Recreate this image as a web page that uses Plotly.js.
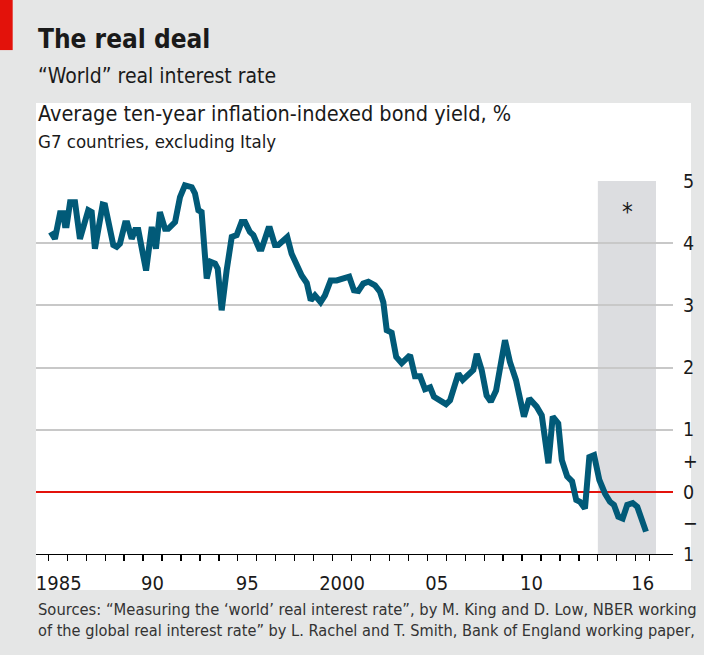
<!DOCTYPE html>
<html>
<head>
<meta charset="utf-8">
<script src="https://cdn.plot.ly/plotly-3.0.1.min.js"></script>
<style>
  html, body { margin: 0; padding: 0; background: #e5e6e6; }
  #chart { width: 704px; height: 655px; }
</style>
</head>
<body>
<div id="chart"></div>
<script>
// ---- Data (decimal years, % yield) ----
const years = [
  1985.13, 1985.35, 1985.62, 1985.79, 1985.88, 1985.97, 1986.15, 1986.41, 1986.67, 1987.11,
  1987.29, 1987.46, 1987.87, 1987.99, 1988.43, 1988.61, 1988.78, 1989.05, 1989.17, 1989.40,
  1989.58, 1989.75, 1990.16, 1990.46, 1990.68, 1990.89, 1991.16, 1991.33, 1991.69, 1991.95,
  1992.21, 1992.57, 1992.74, 1992.92, 1993.09, 1993.36, 1993.57, 1993.80, 1993.94, 1994.15,
  1994.41, 1994.68, 1994.94, 1995.20, 1995.38, 1995.64, 1995.82, 1996.13, 1996.26, 1996.61,
  1996.70, 1996.96, 1997.14, 1997.61, 1997.84, 1998.11, 1998.37, 1998.64, 1998.85, 1999.07,
  1999.37, 1999.60, 1999.90, 2000.22, 2000.57, 2000.88, 2001.13, 2001.36, 2001.62, 2001.89,
  2002.24, 2002.50, 2002.68, 2002.86, 2003.12, 2003.36, 2003.65, 2004.09, 2004.35, 2004.62,
  2004.88, 2005.15, 2005.35, 2005.67, 2005.99, 2006.20, 2006.64, 2006.87, 2007.16, 2007.43,
  2007.61, 2007.87, 2008.13, 2008.35, 2008.63, 2009.10, 2009.36, 2009.68, 2010.10, 2010.38,
  2010.77, 2011.04, 2011.39, 2011.62, 2011.91, 2012.10, 2012.38, 2012.64, 2012.86, 2013.06,
  2013.32, 2013.55, 2013.80, 2014.08, 2014.38, 2014.64, 2014.85, 2015.08, 2015.31, 2015.55,
  2015.84, 2016.08, 2016.54
];
const yields = [
  4.18, 4.07, 4.48, 4.48, 4.29, 4.29, 4.66, 4.66, 4.07, 4.53,
  4.50, 3.91, 4.62, 4.61, 3.97, 3.94, 3.99, 4.32, 4.32, 4.07,
  4.21, 4.21, 3.56, 4.26, 3.91, 4.50, 4.23, 4.23, 4.34, 4.74,
  4.93, 4.90, 4.80, 4.53, 4.50, 3.43, 3.70, 3.67, 3.59, 2.92,
  3.56, 4.10, 4.13, 4.34, 4.34, 4.18, 4.13, 3.91, 3.91, 4.23,
  4.23, 3.97, 3.97, 4.10, 3.83, 3.62, 3.48, 3.36, 3.08, 3.16,
  3.05, 3.16, 3.40, 3.40, 3.43, 3.46, 3.24, 3.23, 3.35, 3.38,
  3.32, 3.22, 3.05, 2.60, 2.56, 2.17, 2.07, 2.20, 1.86, 1.86,
  1.65, 1.68, 1.53, 1.47, 1.41, 1.47, 1.90, 1.80, 1.90, 1.96,
  2.22, 1.96, 1.55, 1.45, 1.63, 2.44, 2.09, 1.80, 1.21, 1.50,
  1.37, 1.23, 0.46, 1.21, 1.10, 0.51, 0.25, 0.17, -0.13, -0.16,
  -0.27, 0.56, 0.59, 0.19, -0.03, -0.16, -0.21, -0.40, -0.43, -0.21,
  -0.18, -0.24, -0.64
];

// ---- Axis ticks / labels ----
const yTickVals = [5, 4, 3, 2, 1, 0.5, 0, -0.5, -1];
const yTickText = ['5', '4', '3', '2', '1', '+', '0', '\u2212', '1'];
const gridVals = [1, 2, 3, 4, 5];
const yearTicks = [1985, 1986, 1987, 1988, 1989, 1990, 1991, 1992, 1993, 1994, 1995, 1996,
  1997, 1998, 1999, 2000, 2001, 2002, 2003, 2004, 2005, 2006, 2007, 2008, 2009, 2010,
  2011, 2012, 2013, 2014, 2015, 2016, 2016.74];
const majorTicks = [1985, 1986, 1990, 1991, 1995, 1996, 2000, 2001, 2005, 2006, 2010, 2011, 2016, 2016.74];
const xLabelPos = [1985.55, 1990.5, 1995.5, 2000.5, 2005.5, 2010.5, 2016.37];
const xLabels = ['1985', '90', '95', '2000', '05', '10', '16'];
const shadeStart = 2014.0;
const shadeEnd = 2017.07;
const asteriskPos = [2015.54, 4.5];

const xRange = [1984.351, 2017.966];
const yRange = [-1, 5];

const FONT = 'DejaVu Sans Condensed, DejaVu Sans, sans-serif';
const INK = '#1a1a1a';

const traces = [
  {
    x: years, y: yields, type: 'scatter', mode: 'lines',
    line: { color: '#015a78', width: 6 },
    hoverinfo: 'skip', showlegend: false
  },
  {
    x: xLabelPos, y: xLabelPos.map(() => null), xaxis: 'x2', yaxis: 'y',
    type: 'scatter', mode: 'markers', hoverinfo: 'skip', showlegend: false
  }
];

const layout = {
  width: 704, height: 655,
  margin: { l: 36, r: 31, t: 181, b: 101, autoexpand: false },
  paper_bgcolor: '#e5e6e6',
  plot_bgcolor: '#ffffff',
  showlegend: false,
  font: { family: FONT, color: INK },
  xaxis: {
    range: xRange, fixedrange: true,
    showgrid: false, zeroline: false,
    showline: true, linecolor: '#000', linewidth: 1.3,
    tickmode: 'array', tickvals: majorTicks, ticktext: majorTicks.map(() => ''),
    ticks: 'outside', ticklen: 11, tickwidth: 1.3, tickcolor: '#000',
    minor: { tickmode: 'array', tickvals: yearTicks, ticks: 'outside', ticklen: 6, tickwidth: 1.3, tickcolor: '#000', showgrid: false }
  },
  xaxis2: {
    range: xRange, fixedrange: true, overlaying: 'x', anchor: 'y', side: 'bottom',
    showgrid: false, zeroline: false, showline: false,
    tickmode: 'array', tickvals: xLabelPos, ticktext: xLabels,
    ticks: '', ticklabelstandoff: 15,
    tickfont: { family: FONT, size: 20, color: INK }
  },
  yaxis: {
    range: yRange, fixedrange: true, side: 'right',
    showline: false,
    showgrid: false,
    zeroline: true, zerolinecolor: '#e3120b', zerolinewidth: 1.5,
    tickmode: 'array', tickvals: yTickVals, ticktext: yTickText,
    ticks: '', ticklabelstandoff: 9,
    tickfont: { family: FONT, size: 19.5, color: INK },
    minor: { tickmode: 'array', tickvals: gridVals, showgrid: true, gridcolor: '#c8c8c8', gridwidth: 2, ticks: '' }
  },
  shapes: [
    // white panel
    { type: 'rect', xref: 'paper', yref: 'paper', x0: 0, x1: 1.0283, y0: -0.0965, y1: 1.2091,
      fillcolor: '#ffffff', line: { width: 0 }, layer: 'below' },
    // red tag
    { type: 'rect', xref: 'paper', yref: 'paper', x0: -0.0565, x1: -0.0366, y0: 1.351, y1: 1.49,
      fillcolor: '#e3120b', line: { width: 0 }, layer: 'above' },
    // shaded period
    { type: 'rect', xref: 'x', yref: 'paper', x0: shadeStart, x1: shadeEnd, y0: 0, y1: 1,
      fillcolor: '#dcdde0', line: { width: 0 }, layer: 'below' }
  ],
  annotations: [
    { xref: 'paper', yref: 'paper', x: 0, y: 1.3807, xanchor: 'left', yanchor: 'middle', showarrow: false,
      text: 'The real deal', font: { family: FONT, size: 26, weight: 700, color: INK } },
    { xref: 'paper', yref: 'paper', x: 0, y: 1.2826, xanchor: 'left', yanchor: 'middle', showarrow: false,
      text: '\u201CWorld\u201D real interest rate', font: { family: FONT, size: 21, color: INK } },
    { xref: 'paper', yref: 'paper', x: 0, y: 1.1823, xanchor: 'left', yanchor: 'middle', showarrow: false,
      text: 'Average ten-year inflation-indexed bond yield, %', font: { family: FONT, size: 21.5, color: INK } },
    { xref: 'paper', yref: 'paper', x: 0, y: 1.1054, xanchor: 'left', yanchor: 'middle', showarrow: false,
      text: 'G7 countries, excluding Italy', font: { family: FONT, size: 18.5, color: INK } },
    { xref: 'x', yref: 'y', x: asteriskPos[0], y: asteriskPos[1], xanchor: 'center', yanchor: 'middle', showarrow: false,
      text: '*', font: { family: FONT, size: 24, color: INK } },
    { xref: 'paper', yref: 'paper', x: 0, y: -0.1475, xanchor: 'left', yanchor: 'middle', showarrow: false,
      text: 'Sources: \u201CMeasuring the \u2018world\u2019 real interest rate\u201D, by M. King and D. Low, NBER working',
      font: { family: FONT, size: 16.4, color: '#333333' } },
    { xref: 'paper', yref: 'paper', x: 0, y: -0.2064, xanchor: 'left', yanchor: 'middle', showarrow: false,
      text: 'of the global real interest rate\u201D by L. Rachel and T. Smith, Bank of England working paper,',
      font: { family: FONT, size: 16.2, color: '#333333' } }
  ]
};

Plotly.newPlot('chart', traces, layout, { staticPlot: true, displayModeBar: false });
</script>
</body>
</html>
